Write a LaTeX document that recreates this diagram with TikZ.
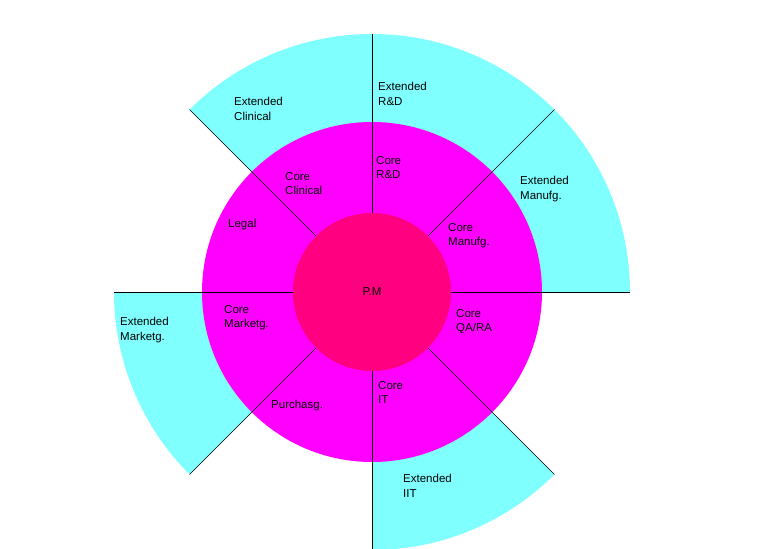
\documentclass[tikz,border=0pt]{standalone}
\usepackage{fontspec}
\setmainfont{Liberation Sans}
\usetikzlibrary{calc}
\definecolor{ext}{HTML}{80FFFF}
\definecolor{core}{HTML}{FF00FF}
\definecolor{pm}{HTML}{FF0080}
\begin{document}
\begin{tikzpicture}[x=1pt,y=-1pt,
  lbl/.style={anchor=north west,align=left,inner sep=0pt,font=\fontsize{11.5}{14.5}\selectfont},
  sec/.style={fill=ext,draw=none}]
\useasboundingbox (0,0) rectangle (780,549);
\coordinate (c) at (372,292);
\def\R{258}
\fill[ext] (c) -- ++(-135:\R) arc[start angle=-135,end angle=-90,radius=\R] -- cycle;
\fill[ext] (c) -- ++(-90:\R) arc[start angle=-90,end angle=-45,radius=\R] -- cycle;
\fill[ext] (c) -- ++(-45:\R) arc[start angle=-45,end angle=0,radius=\R] -- cycle;
\fill[ext] (c) -- ++(180:\R) arc[start angle=180,end angle=135,radius=\R] -- cycle;
\fill[ext] (c) -- ++(90:\R) arc[start angle=90,end angle=45,radius=\R] -- cycle;
\node[circle,fill=core,minimum size=340pt,inner sep=0pt] (core) at (c) {};
\node[circle,fill=pm,minimum size=158pt,inner sep=0pt] (pm) at (c) {};
\foreach \a in {0,45,90,135,180,225,270,315}
  \draw[black,line width=0.6pt] (pm.\a) -- ($(c)+(-\a:\R)$);
\node[font=\fontsize{11.5}{14.5}\selectfont] at (c) {P.M};
\node[lbl] at (234,97) {Extended\\Clinical};
\node[lbl] at (378,82) {Extended\\R\&D};
\node[lbl] at (376,156) {Core\\R\&D};
\node[lbl] at (285,172) {Core\\Clinical};
\node[lbl] at (228,219) {Legal};
\node[lbl] at (448,223) {Core\\Manufg.};
\node[lbl] at (520,176) {Extended\\Manufg.};
\node[lbl] at (456,309) {Core\\QA/RA};
\node[lbl] at (224,305) {Core\\Marketg.};
\node[lbl] at (120,317) {Extended\\Marketg.};
\node[lbl] at (378,381) {Core\\IT};
\node[lbl] at (271,400) {Purchasg.};
\node[lbl] at (403,474) {Extended\\IIT};
\end{tikzpicture}
\end{document}
